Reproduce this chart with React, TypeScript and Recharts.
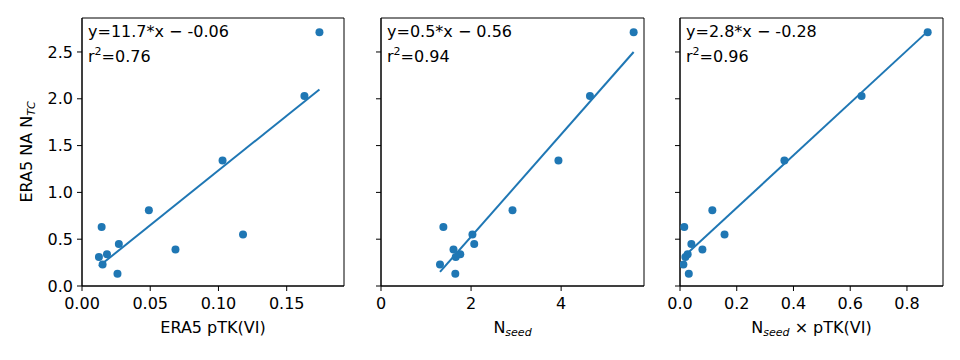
import React from "react";
import {
  ScatterChart,
  Scatter,
  XAxis,
  YAxis,
  ReferenceArea,
  ReferenceLine,
} from "recharts";

// ERA5 NA N_TC (shared y values)
const nTC = [2.71, 2.03, 1.34, 0.81, 0.63, 0.55, 0.45, 0.39, 0.34, 0.31, 0.23, 0.13];
// x values for each panel
const pTK = [0.174, 0.163, 0.103, 0.049, 0.0144, 0.118, 0.027, 0.0685, 0.0183, 0.0124, 0.0151, 0.026];
const nSeed = [5.61, 4.64, 3.94, 2.92, 1.385, 2.03, 2.07, 1.61, 1.76, 1.66, 1.31, 1.65];
const nSeedPTK = [0.873, 0.64, 0.368, 0.114, 0.015, 0.157, 0.04, 0.079, 0.027, 0.019, 0.012, 0.031];

// fit line end points
const fitX1 = [0.0124, 0.174];
const fitY1 = [0.21, 2.1];
const fitX2 = [1.31, 5.61];
const fitY2 = [0.15, 2.5];
const fitX3 = [0.012, 0.873];
const fitY3 = [0.31, 2.72];

const yTicks = [0, 0.5, 1, 1.5, 2, 2.5];
const xTicks1 = [0, 0.05, 0.1, 0.15];
const xTicks2 = [0, 2, 4];
const xTicks3 = [0, 0.2, 0.4, 0.6, 0.8];

const eqText = ["y=11.7*x \u2212 -0.06", "y=0.5*x \u2212 0.56", "y=2.8*x \u2212 -0.28"];
const r2Text = ["0.76", "0.94", "0.96"];

const BLUE = "#1f77b4";
const FONT = "DejaVu Sans";
const FS = 16;
const tickStyle = { fill: "#000", fontSize: FS, fontFamily: FONT };

const dot = (p: any) => <circle cx={p.cx} cy={p.cy} r={4} fill={BLUE} />;

const Annot = ({ viewBox, eq, r2 }: any) => {
  const x = viewBox.x + 6;
  const y = viewBox.y + 19;
  return (
    <g fontFamily={FONT} fontSize={FS} fill="#000">
      <text x={x} y={y}>{eq}</text>
      <text x={x} y={y + 25}>
        r<tspan fontSize={11} dy={-7}>2</tspan>
        <tspan dy={7}>={r2}</tspan>
      </text>
    </g>
  );
};

const XLabel = ({ viewBox, kind }: any) => {
  const cx = viewBox.x + viewBox.width / 2;
  const y = viewBox.y + 47;
  let content: React.ReactNode = "ERA5 pTK(VI)";
  if (kind === 2)
    content = (
      <>
        N<tspan fontSize={11} fontStyle="italic" dy={3}>seed</tspan>
      </>
    );
  if (kind === 3)
    content = (
      <>
        N<tspan fontSize={11} fontStyle="italic" dy={3}>seed</tspan>
        <tspan dy={-3}> {"\u00d7"} pTK(VI)</tspan>
      </>
    );
  return (
    <text x={cx} y={y} textAnchor="middle" fontFamily={FONT} fontSize={FS} fill="#000">
      {content}
    </text>
  );
};

const YLabel = ({ viewBox }: any) => {
  const x = viewBox.x + 32;
  const y = viewBox.y + viewBox.height / 2;
  return (
    <text
      x={x}
      y={y}
      transform={`rotate(-90 ${x} ${y})`}
      textAnchor="middle"
      fontFamily={FONT}
      fontSize={FS}
      fill="#000"
    >
      ERA5 NA N<tspan fontSize={11} fontStyle="italic" dy={3}>TC</tspan>
    </text>
  );
};

type PanelProps = {
  left: number;
  width: number;
  yAxisWidth: number;
  right: number;
  xs: number[];
  xMax: number;
  xTicks: number[];
  xFmt: (v: number) => string;
  fitX: number[];
  fitY: number[];
  idx: number;
  showY: boolean;
};

const Y_MAX = 2.863;

function Panel(p: PanelProps) {
  const data = p.xs.map((x, i) => ({ x, y: nTC[i] }));
  return (
    <div style={{ position: "absolute", left: p.left, top: 0 }}>
      <ScatterChart
        width={p.width}
        height={360}
        margin={{ top: 18, right: p.right, bottom: 34, left: 0 }}
      >
        <XAxis
          type="number"
          dataKey="x"
          domain={[0, p.xMax]}
          ticks={p.xTicks}
          tickFormatter={p.xFmt}
          allowDataOverflow
          height={40}
          stroke="#000"
          tickSize={5}
          tickMargin={7}
          tick={tickStyle}
          label={<XLabel kind={p.idx + 1} />}
        />
        <YAxis
          type="number"
          dataKey="y"
          domain={[0, Y_MAX]}
          ticks={yTicks}
          tickFormatter={p.showY ? (v: number) => v.toFixed(1) : () => ""}
          allowDataOverflow
          width={p.yAxisWidth}
          stroke="#000"
          tickSize={5}
          tickMargin={4}
          tick={tickStyle}
          label={p.showY ? <YLabel /> : undefined}
        />
        <ReferenceArea
          x1={0}
          x2={p.xMax}
          y1={0}
          y2={Y_MAX}
          fill="none"
          fillOpacity={0}
          stroke="#000"
          strokeWidth={1}
          label={<Annot eq={eqText[p.idx]} r2={r2Text[p.idx]} />}
        />
        <Scatter data={data} fill={BLUE} shape={dot} isAnimationActive={false} />
        <ReferenceLine
          segment={[
            { x: p.fitX[0], y: p.fitY[0] },
            { x: p.fitX[1], y: p.fitY[1] },
          ]}
          stroke={BLUE}
          strokeWidth={2}
        />
      </ScatterChart>
    </div>
  );
}

export default function App() {
  return (
    <div
      style={{
        position: "absolute",
        left: 0,
        top: 0,
        width: 960,
        height: 360,
        background: "#fff",
        fontFamily: FONT,
      }}
    >
      <Panel
        left={0}
        width={360}
        yAxisWidth={82}
        right={16}
        xs={pTK}
        xMax={0.192}
        xTicks={xTicks1}
        xFmt={(v) => v.toFixed(2)}
        fitX={fitX1}
        fitY={fitY1}
        idx={0}
        showY
      />
      <Panel
        left={360}
        width={300}
        yAxisWidth={21}
        right={16}
        xs={nSeed}
        xMax={5.84}
        xTicks={xTicks2}
        xFmt={(v) => String(v)}
        fitX={fitX2}
        fitY={fitY2}
        idx={1}
        showY={false}
      />
      <Panel
        left={660}
        width={300}
        yAxisWidth={20}
        right={17}
        xs={nSeedPTK}
        xMax={0.927}
        xTicks={xTicks3}
        xFmt={(v) => v.toFixed(1)}
        fitX={fitX3}
        fitY={fitY3}
        idx={2}
        showY={false}
      />
    </div>
  );
}
